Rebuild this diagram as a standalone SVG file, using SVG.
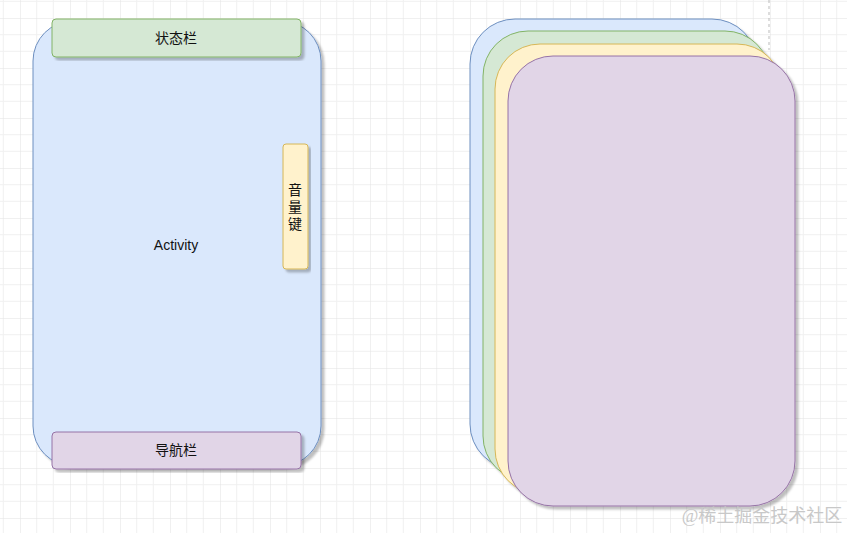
<svg xmlns="http://www.w3.org/2000/svg" width="847" height="533" viewBox="0 0 847 533">
<defs>
<pattern id="g" x="20" y="18" width="50" height="50" patternUnits="userSpaceOnUse">
<path d="M16.7 0V50M33.3 0V50M0 16.7H50M0 33.3H50" stroke="#f0f0f0" stroke-width="1" fill="none"/>
<path d="M0 0V50M0 0H50" stroke="#e2e2e2" stroke-width="1" fill="none"/>
</pattern>
<filter id="sh" x="-10%" y="-10%" width="120%" height="120%"><feDropShadow dx="3" dy="3" stdDeviation="1.2" flood-color="#000" flood-opacity="0.25"/></filter>
</defs>
<style>
text{font-family:"Liberation Sans","Noto Sans CJK SC",sans-serif;font-size:14px;fill:#111;text-anchor:middle;dominant-baseline:central}
.b{fill:#dae8fc;stroke:#6c8ebf}.gr{fill:#d5e8d4;stroke:#82b366}.y{fill:#fff2cc;stroke:#d6b656}.p{fill:#e1d5e7;stroke:#9673a6}
</style>
<rect width="847" height="533" fill="#fff"/>
<rect width="847" height="533" fill="url(#g)"/>
<line x1="769" y1="0" x2="769" y2="50" stroke="#bbb" stroke-dasharray="3 3"/>
<g id="phone"><rect class="b" x="33" y="21" width="288" height="445" rx="40" filter="url(#sh)"/><text x="176" y="245">Activity</text></g>
<g id="status"><rect class="gr" x="52" y="19" width="249" height="38" rx="4" filter="url(#sh)"/><text x="176" y="38">状态栏</text></g>
<g id="nav"><rect class="p" x="52" y="432" width="249" height="37" rx="4" filter="url(#sh)"/><text x="176" y="450">导航栏</text></g>
<g id="volume"><rect class="y" x="283" y="144" width="25" height="125" rx="3" filter="url(#sh)"/><text x="295" y="190">音</text><text x="295" y="207">量</text><text x="295" y="224">键</text></g>
<g id="layer1"><rect class="b" x="470" y="19" width="287" height="450" rx="45" filter="url(#sh)"/></g>
<g id="layer2"><rect class="gr" x="483" y="31" width="287" height="450" rx="45" filter="url(#sh)"/></g>
<g id="layer3"><rect class="y" x="495" y="44" width="287" height="450" rx="45" filter="url(#sh)"/></g>
<g id="layer4"><rect class="p" x="508" y="56" width="287" height="450" rx="45" filter="url(#sh)"/></g>
<g id="connectors"/>
<text x="762" y="516" style="font-size:18px;fill:#c8c8c8;font-family:'Liberation Serif','Noto Sans CJK SC',serif">@稀土掘金技术社区</text>
</svg>
